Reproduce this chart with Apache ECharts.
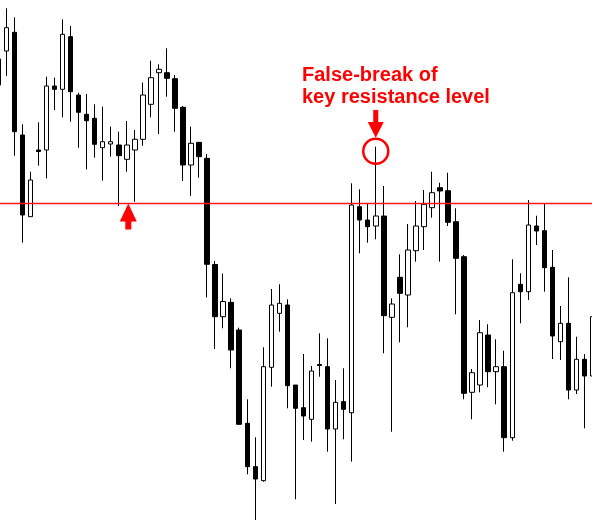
<!DOCTYPE html>
<html>
<head>
<meta charset="utf-8">
<script src="https://cdn.jsdelivr.net/npm/echarts@6/dist/echarts.min.js"></script>
<style>
html,body{margin:0;padding:0;background:#fff;overflow:hidden;width:592px;height:532px;}
#wrap{position:relative;width:592px;height:532px;overflow:hidden;}
#chart{position:absolute;left:-6px;top:0;width:604px;height:532px;}
</style>
</head>
<body>
<div id="wrap"><div id="chart"></div></div>
<script>
// Price values (arbitrary price units, higher = up)
const opens = [473,481,499.7,397,315.3,382,382,446,442.7,495.3,437,417.7,413.7,384.3,388,387,372.7,382,392.7,427.7,
  459.3,459.3,453.3,424.7,367,389.7,373.7,267.5,215.3,229.7,202,108.7,65.3,51.3,164.7,218.7,227,147,124.3,112.7,
  167.5,165.3,103,130.3,119.3,325.3,312,306,316,214.7,254.7,237,281.3,305.3,324.3,344.3,341.3,310.3,275.3,139.7,
  147,197,160.3,165.3,94.3,247.7,240.3,306,301.3,264.7,190.3,208.7,142,172.7,156];
const closes = [447,504.3,400.3,317,352,380.5,446,442.7,497.7,440.3,419.7,411.3,387.7,390.3,390.3,376.3,387,392.7,437,454.3,
  462.7,453.7,423.7,367,388.7,375.3,267.7,215.3,230.5,182,107.7,65.3,53,165.3,227,228.7,146.3,123.7,116,161,
  166.5,103,129.7,122.7,327,312,305.3,316,216.3,228,238.7,282,306,327.7,339.3,341,309.7,273.7,138.7,159.3,
  199.3,160.3,165.3,94.3,239.3,240.3,307,301,264.3,196,208.7,142,172.7,156,215.3];
const lows = [447,456,376.3,289.3,315,366.3,353.7,422,414.7,410.3,384.3,362.7,374.3,351.3,375.3,326,360.3,330.3,386.3,414.7,
  398,435.3,400.3,351,336,354.3,234.7,183,203.7,163.7,107,57.7,12,50.3,145.3,200.3,123.7,32.7,92,90.3,
  155.3,80.3,28,92.7,70.3,278.7,289.3,292.7,178.7,100.3,189.7,204.7,270.3,282,314.3,270.3,306,217.7,132.7,112.7,
  139.7,144.7,127.7,80.3,91.3,208.7,232,287,240.3,173,172,132.7,138,103.7,152];
const highs = [473,523.7,514.7,407.7,360.3,409.7,455.3,454.3,512.7,506,439.3,438,427.7,425.3,405.3,400.3,411,402,449.5,471.3,
  467.7,483.7,457,426,405.3,390,378,271,258.5,233.7,204.3,132.7,94.7,184.7,243,247.7,232.7,147,178,166,
  198.7,193.7,152,163.7,348.7,342.7,328.7,385.3,346,233.7,277.7,308,331,342,360.3,349.3,359.3,323.7,277,163,
  212,207.7,192.7,181.3,272.7,258.7,332,316.3,328,282,226,254.7,195.3,178,222];
const resistanceLevel = 328.4;
const falseBreakBar = 47;
const retestBar = 16;
const annotationLines = ['False-break of', 'key resistance level'];
const categories = opens.map((_, i) => 'Bar ' + (i + 1));

const ohlc = opens.map((o, i) => [o, closes[i], lows[i], highs[i]]);

const OFFSET = 6; // chart canvas starts 6px left of the visible window
const chart = echarts.init(document.getElementById('chart'), null, {renderer: 'canvas'});
chart.setOption({
  animation: false,
  backgroundColor: '#ffffff',
  grid: {left: 0.3, top: 0, width: 602.3, height: 532, containLabel: false},
  xAxis: {
    type: 'category', data: categories, boundaryGap: true,
    axisLine: {show: false}, axisTick: {show: false}, axisLabel: {show: false}, splitLine: {show: false}
  },
  yAxis: {
    type: 'value', min: 0, max: 532, scale: false,
    axisLine: {show: false}, axisTick: {show: false}, axisLabel: {show: false}, splitLine: {show: false}
  },
  series: [{
    type: 'candlestick',
    data: ohlc,
    barWidth: 5,
    itemStyle: {
      color: '#ffffff', color0: '#000000',
      borderColor: '#000000', borderColor0: '#000000', borderColorDoji: '#000000',
      borderWidth: 1
    },
    emphasis: {disabled: true},
    silent: true,
    z: 2
  }]
});

const p = chart.convertToPixel({xAxisIndex: 0, yAxisIndex: 0}, [categories[falseBreakBar], highs[falseBreakBar]]);
const cx = p[0], cy = p[1] + 4.5;
const lineY = chart.convertToPixel({yAxisIndex: 0}, resistanceLevel);
const ax = chart.convertToPixel({xAxisIndex: 0}, categories[retestBar]) + 1.5;
const font = 'bold 20px "Liberation Sans", Arial, sans-serif';

chart.setOption({
  graphic: [
    {type: 'line', z: 10, subPixelOptimize: false, shape: {x1: 0, y1: lineY, x2: 604, y2: lineY}, style: {stroke: '#ff1a1a', lineWidth: 1.5}},
    {type: 'text', z: 10, left: 302 + OFFSET, top: 65, style: {text: annotationLines[0], fill: '#ff0000', font: font}},
    {type: 'text', z: 10, left: 302 + OFFSET, top: 87, style: {text: annotationLines[1], fill: '#ff0000', font: font}},
    {type: 'circle', z: 10, shape: {cx: cx, cy: cy, r: 12.5}, style: {fill: 'none', stroke: '#ff0000', lineWidth: 2.5}},
    {type: 'polygon', z: 10, shape: {points: [[cx-2.5,110],[cx+2.5,110],[cx+2.5,122],[cx+8,122],[cx,cy-13.5],[cx-8,122],[cx-2.5,122]]}, style: {fill: '#ff0000'}},
    {type: 'polygon', z: 10, shape: {points: [[ax,lineY],[ax+8.5,lineY+18],[ax+3,lineY+18],[ax+3,lineY+26],[ax-3,lineY+26],[ax-3,lineY+18],[ax-8.5,lineY+18]]}, style: {fill: '#ff0000'}}
  ]
});
</script>
</body>
</html>
